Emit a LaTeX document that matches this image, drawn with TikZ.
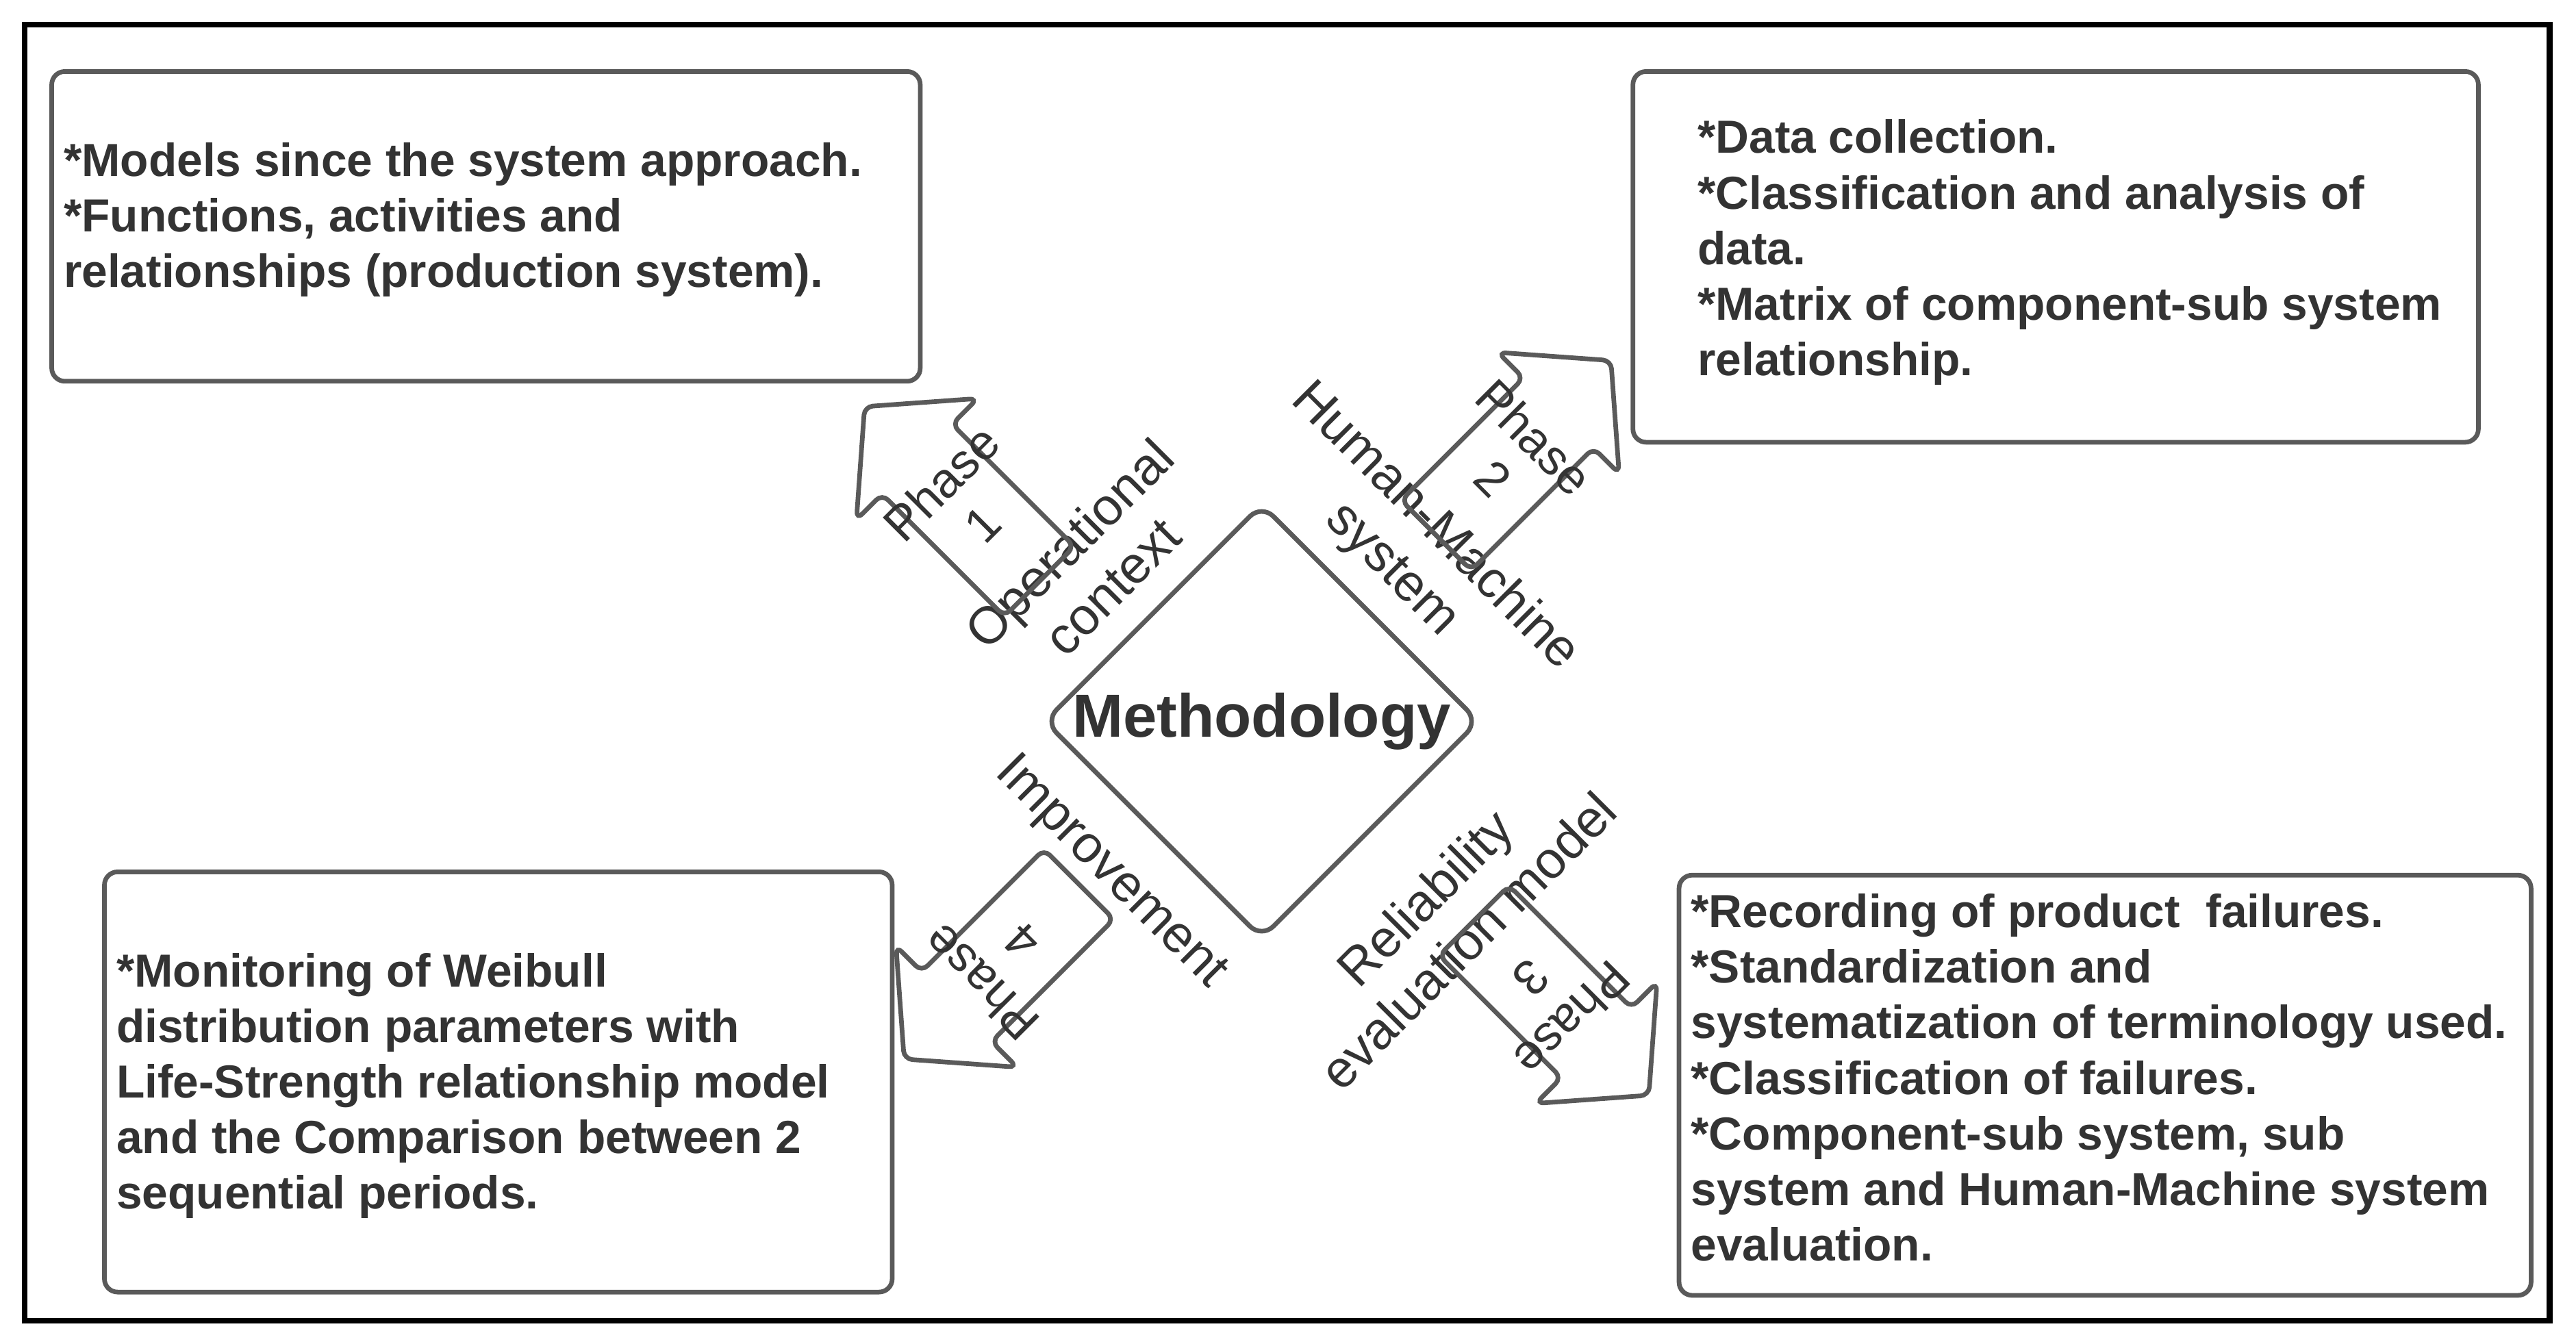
\documentclass[tikz,border=0pt]{standalone}
\usepackage{fontspec}
\setmainfont{Liberation Sans}
\usetikzlibrary{shapes.geometric}
\definecolor{linegray}{HTML}{5A5A5A}
\definecolor{textgray}{HTML}{333333}
\tikzset{
	box/.style={draw=linegray, line width=0.8pt, rounded corners=0.08cm, anchor=north west, inner sep=0},
	boxtext/.style={anchor=north west, align=left, inner sep=0, text=textgray, font=\bfseries\fontsize{8}{9.6}\selectfont},
	phase/.style={draw=linegray, line width=0.8pt, rounded corners=0.05cm},
	phasetext/.style={align=center, inner sep=0, text=textgray, font=\fontsize{8.5}{10}\selectfont},
	label/.style={align=center, text=textgray, font=\fontsize{9}{10.5}\selectfont}
}
% block arrow: position, direction, name, text
\newcommand{\phasearrow}[4]{
	\begin{scope}[shift={#1}, x=1cm, y=1cm, rotate=#2]
		\draw[phase] (-0.75,-0.3) -- (0.3,-0.3) -- (0.3,-0.52) -- (0.75,0) -- (0.3,0.52) -- (0.3,0.3) -- (-0.75,0.3) -- cycle;
		\node[phasetext, rotate=#2-90] (#3) at (-0.08,0) {#4};
	\end{scope}
}
\begin{document}
\begin{tikzpicture}[x=0.01cm, y=-0.01cm]
	\useasboundingbox (0,0) rectangle (1564,816);
	% frame
	\draw[line width=1pt] (15,15) rectangle (1548,802);

	% boxes
	\node[box, minimum width=5.27cm, minimum height=1.88cm] (box1) at (30,42) {};
	\node[boxtext] (text1) at (38,86) {*Models since the system approach.\\*Functions, activities and\\relationships (production system).};
	\node[box, minimum width=5.13cm, minimum height=2.25cm] (box2) at (990,42) {};
	\node[boxtext] (text2) at (1030,72) {*Data collection.\\*Classification and analysis of\\data.\\*Matrix of component-sub system\\relationship.};
	\node[box, minimum width=5.17cm, minimum height=2.55cm] (box3) at (1018,530) {};
	\node[boxtext] (text3) at (1026,542) {*Recording of product\ \ failures.\\*Standardization and\\systematization of terminology used.\\*Classification of failures.\\*Component-sub system, sub\\system and Human-Machine system\\evaluation.};
	\node[box, minimum width=4.78cm, minimum height=2.55cm] (box4) at (62,528) {};
	\node[boxtext] (text4) at (70,578) {*Monitoring of Weibull\\distribution parameters with\\Life-Strength relationship model\\and the Comparison between 2\\sequential periods.};

	% center
	\node[diamond, draw=linegray, line width=0.8pt, rounded corners=0.1cm, minimum width=2.53cm, minimum height=2.5cm, inner sep=0, text=textgray, font=\bfseries\fontsize{10.5}{13}\selectfont] (method) at (766,438) {Methodology};
	\node[label, rotate=45] (opctx) at (662,343) {Operational\\context};
	\node[label, rotate=-45] (hms) at (858,333) {Human-Machine\\system};
	\node[label, rotate=-45] (impr) at (674,530) {Improvement};
	\node[label, rotate=45] (relm) at (878,558) {Reliability\\evaluation model};

	% phases
	\phasearrow{(578,300)}{135}{ph1}{Phase\\1}
	\phasearrow{(925,272)}{45}{ph2}{Phase\\2}
	\phasearrow{(948,612)}{-45}{ph3}{Phase\\3}
	\phasearrow{(602,590)}{225}{ph4}{Phase\\4}
\end{tikzpicture}
\end{document}
